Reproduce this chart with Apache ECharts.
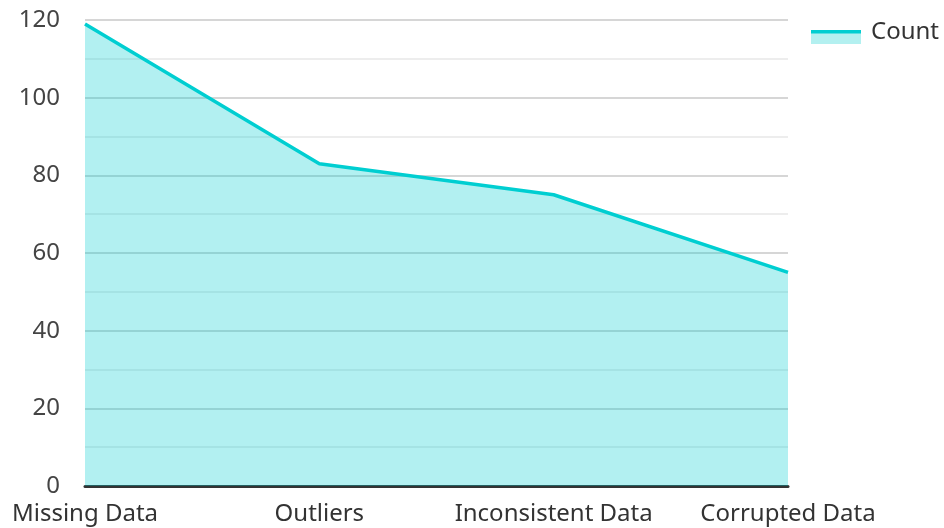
<!DOCTYPE html>
<html>
<head>
<meta charset="utf-8">
<script src="https://cdn.jsdelivr.net/npm/echarts@6/dist/echarts.min.js"></script>
<style>
    html, body { margin: 0; padding: 0; background: #fff; }
    #main { width: 944px; height: 528px; }
</style>
</head>
<body>
<div id="main"></div>
<script>
var categories = ['Missing Data', 'Outliers', 'Inconsistent Data', 'Corrupted Data'];
var counts = [119, 83, 75, 55];
var seriesName = 'Count';

// legend icon: line on top of its filled area (sits a bit low, like the original)
var iconSvg = '<svg xmlns="http://www.w3.org/2000/svg" width="50" height="24">' +
    '<rect x="0" y="13" width="50" height="11" fill="#b3f0f0"/>' +
    '<rect x="0" y="10" width="50" height="3.5" fill="#00CED1"/></svg>';
var iconUrl = 'image://data:image/svg+xml;charset=utf-8,' + encodeURIComponent(iconSvg);

var myChart = echarts.init(document.getElementById('main'));
var option = {
    backgroundColor: '#fff',
    textStyle: { fontFamily: 'Noto Sans' },
    legend: {
        right: 0,
        top: 15,
        itemWidth: 50,
        itemHeight: 24,
        itemGap: 10,
        textStyle: { fontSize: 24, color: '#333', fontFamily: 'Noto Sans', padding: [0, 0, 0, 5] },
        data: [{ name: seriesName, icon: iconUrl }]
    },
    grid: { left: 85, right: 156, top: 20, bottom: 42 },
    xAxis: {
        type: 'category',
        boundaryGap: false,
        data: categories,
        axisLine: { lineStyle: { color: '#333', width: 3 } },
        axisTick: { show: false },
        axisLabel: { fontSize: 24, color: '#333', margin: 16, interval: 0, fontFamily: 'Noto Sans' }
    },
    yAxis: {
        type: 'value',
        min: 0,
        max: 120,
        interval: 20,
        axisLine: { show: false },
        axisTick: { show: false },
        axisLabel: { fontSize: 24, color: '#444', margin: 25, fontFamily: 'Noto Sans' },
        splitLine: { lineStyle: { color: '#c8c8c8', width: 1.5 } },
        minorTick: { show: false, splitNumber: 2 },
        minorSplitLine: { show: true, lineStyle: { color: '#e8e8e8', width: 1.5 } }
    },
    series: [{
        name: seriesName,
        type: 'line',
        data: counts,
        symbol: 'none',
        lineStyle: { color: '#00CED1', width: 3.5 },
        itemStyle: { color: '#00CED1' },
        areaStyle: { color: 'rgba(0,206,209,0.3)', opacity: 1 }
    }]
};
myChart.setOption(option);
</script>
</body>
</html>
